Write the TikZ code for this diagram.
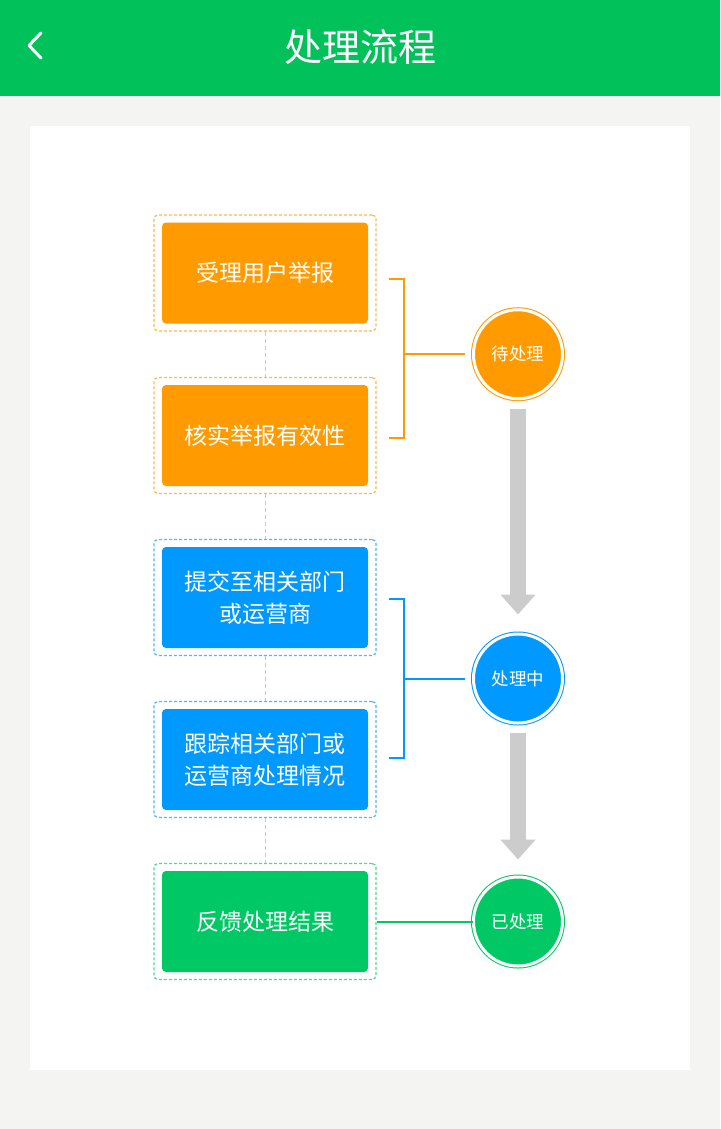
\documentclass[tikz,border=0pt]{standalone}
\usepackage{fontspec}
\setmainfont{Noto Sans CJK SC}
\usetikzlibrary{arrows.meta}
\definecolor{cbar}{HTML}{00C15A}
\definecolor{cback}{HTML}{F4F4F2}
\definecolor{corange}{HTML}{FF9A00}
\definecolor{cblue}{HTML}{0099FF}
\definecolor{cgreen}{HTML}{00C864}
\definecolor{cline}{HTML}{C8C8C8}
\definecolor{cflow}{HTML}{CCCCCC}

\begin{document}
\begin{tikzpicture}[x=1pt,y=-1pt,
  task/.style={fill=#1,rounded corners=4pt,minimum width=206pt,minimum height=101pt,
    text=white,font=\fontsize{23}{32}\selectfont,align=center,inner sep=0pt},
  frame/.style={draw=#1!70,dash pattern=on 3pt off 2pt,rounded corners=4pt,
    minimum width=222pt,minimum height=116pt,line width=1.2pt},
  state/.style={circle,fill=#1,draw=#1,double=white,double distance=3pt,line width=1pt,
    minimum size=89pt,text=white,font=\fontsize{17.5}{17.5}\selectfont,inner sep=0pt},
  link/.style={draw=cline,dash pattern=on 4pt off 3pt,line width=0.8pt},
  brk/.style={draw=#1,line width=2pt},
  flow/.style={draw=cflow,line width=16pt,-{Triangle[width=34pt,length=20pt]}}]
  \fill[cback] (0,0) rectangle (720,1129);
  \fill[cbar] (0,0) rectangle (720,96);
  \fill[white] (30,126) rectangle (690,1070);
  \draw[white,line width=3pt,line cap=round,line join=round] (41,33) -- (29,45.5) -- (41,58);
  \node[text=white,font=\fontsize{38}{38}\selectfont] (title) at (360,47) {处理流程};

  \node[frame=corange] (f1) at (265,273) {};
  \node[frame=corange] (f2) at (265,435.5) {};
  \node[frame=cblue] (f3) at (265,597.5) {};
  \node[frame=cblue] (f4) at (265,759.5) {};
  \node[frame=cgreen] (f5) at (265,921.5) {};
  \node[task=corange] (t1) at (f1) {受理用户举报};
  \node[task=corange] (t2) at (f2) {核实举报有效性};
  \node[task=cblue] (t3) at (f3) {提交至相关部门\\或运营商};
  \node[task=cblue] (t4) at (f4) {跟踪相关部门或\\运营商处理情况};
  \node[task=cgreen] (t5) at (f5) {反馈处理结果};
  \draw[link] (f1) -- (f2);
  \draw[link] (f2) -- (f3);
  \draw[link] (f3) -- (f4);
  \draw[link] (f4) -- (f5);

  \node[state=corange] (c1) at (518,354.25) {待处理};
  \node[state=cblue] (c2) at (518,678.5) {处理中};
  \node[state=cgreen] (c3) at (518,921.5) {已处理};

  \draw[brk=corange] ([xshift=12pt,yshift=-6pt]f1.east) -- ([xshift=27pt,yshift=-6pt]f1.east)
    -- ([xshift=27pt,yshift=-2.5pt]f2.east) -- ([xshift=12pt,yshift=-2.5pt]f2.east);
  \draw[brk=corange,shorten >=8pt] ([xshift=27pt]f1.east |- c1) -- (c1);
  \draw[brk=cblue] ([xshift=12pt,yshift=-1.5pt]f3.east) -- ([xshift=27pt,yshift=-1.5pt]f3.east)
    -- ([xshift=27pt,yshift=1.5pt]f4.east) -- ([xshift=12pt,yshift=1.5pt]f4.east);
  \draw[brk=cblue,shorten >=8pt] ([xshift=27pt]f3.east |- c2) -- (c2);
  \draw[brk=cgreen] (f5) -- (c3);

  \draw[flow,shorten <=10pt,shorten >=19pt] (c1) -- (c2);
  \draw[flow,shorten <=9pt,shorten >=17pt] (c2) -- (c3);
\end{tikzpicture}
\end{document}
